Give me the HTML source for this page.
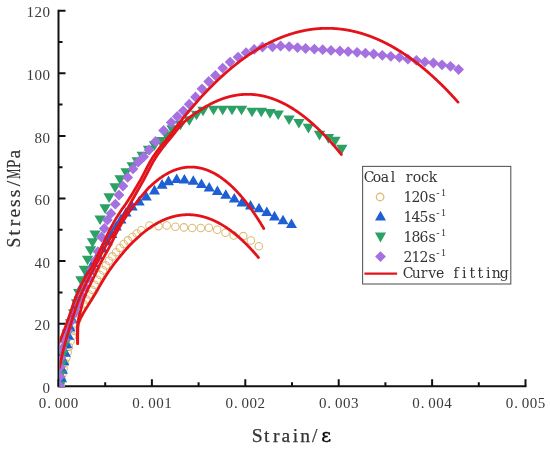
<!DOCTYPE html>
<html><head><meta charset="utf-8"><style>
html,body{margin:0;padding:0;background:#fff;width:550px;height:449px;overflow:hidden}
svg{display:block}
text{font-family:"Liberation Serif","Noto Serif CJK SC",serif;fill:#333}
.tk{font-size:15px;fill:#3a3a3a}
.yt{font-size:19.5px;fill:#333;stroke:#333;stroke-width:0.25px}
.ti{font-size:19.5px;fill:#333;stroke:#333;stroke-width:0.25px}
.eps{font-family:"DejaVu Serif","Liberation Serif",serif;font-size:19px;fill:#000;stroke:#000;stroke-width:0.35px}
.lg{font-family:"DejaVu Serif","Liberation Serif",serif;font-size:14px;fill:#333}
.sup{font-size:10px;fill:#333}
</style></head><body>
<svg width="550" height="449" viewBox="0 0 550 449">
<rect width="550" height="449" fill="#fff"/>
<path d="M58.5,9.7V386.3H526.5" fill="none" stroke="#111" stroke-width="2"/><path d="M58.5,386.3H65.5M58.5,323.7H65.5M58.5,261.1H65.5M58.5,198.5H65.5M58.5,135.9H65.5M58.5,73.3H65.5M58.5,10.7H65.5M58.5,355.0H62.5M58.5,292.4H62.5M58.5,229.8H62.5M58.5,167.2H62.5M58.5,104.6H62.5M58.5,42.0H62.5M58.5,386.3V379.3M151.9,386.3V379.3M245.3,386.3V379.3M338.7,386.3V379.3M432.1,386.3V379.3M525.5,386.3V379.3M105.2,386.3V382.3M198.6,386.3V382.3M292.0,386.3V382.3M385.4,386.3V382.3M478.8,386.3V382.3" stroke="#111" stroke-width="2" fill="none"/>
<defs><clipPath id="pc"><rect x="59.5" y="0" width="480" height="387.3"/></clipPath></defs>
<g clip-path="url(#pc)"><g fill="none" stroke="#dfbb78" stroke-width="1.1"><circle cx="61.0" cy="385.0" r="3.75"/><circle cx="61.7" cy="379.4" r="3.75"/><circle cx="62.5" cy="373.9" r="3.75"/><circle cx="63.6" cy="368.4" r="3.75"/><circle cx="65.0" cy="363.0" r="3.75"/><circle cx="66.4" cy="357.6" r="3.75"/><circle cx="67.7" cy="352.1" r="3.75"/><circle cx="69.0" cy="346.7" r="3.75"/><circle cx="70.6" cy="341.3" r="3.75"/><circle cx="72.3" cy="336.0" r="3.75"/><circle cx="74.0" cy="330.6" r="3.75"/><circle cx="75.6" cy="325.3" r="3.75"/><circle cx="77.4" cy="320.0" r="3.75"/><circle cx="79.3" cy="314.7" r="3.75"/><circle cx="81.5" cy="309.5" r="3.75"/><circle cx="83.8" cy="304.4" r="3.75"/><circle cx="86.3" cy="299.4" r="3.75"/><circle cx="89.0" cy="294.5" r="3.75"/><circle cx="91.8" cy="289.7" r="3.75"/><circle cx="94.6" cy="284.8" r="3.75"/><circle cx="97.1" cy="279.8" r="3.75"/><circle cx="100.0" cy="275.0" r="3.75"/><circle cx="103.0" cy="270.3" r="3.75"/><circle cx="105.9" cy="265.5" r="3.75"/><circle cx="108.9" cy="260.8" r="3.75"/><circle cx="112.3" cy="256.4" r="3.75"/><circle cx="116.0" cy="252.2" r="3.75"/><circle cx="119.8" cy="248.0" r="3.75"/><circle cx="123.7" cy="244.0" r="3.75"/><circle cx="127.9" cy="240.4" r="3.75"/><circle cx="132.4" cy="237.0" r="3.75"/><circle cx="136.8" cy="233.5" r="3.75"/><circle cx="141.3" cy="230.2" r="3.75"/><circle cx="149.5" cy="225.5" r="3.75"/><circle cx="158.5" cy="226.1" r="3.75"/><circle cx="166.7" cy="225.5" r="3.75"/><circle cx="175.4" cy="226.7" r="3.75"/><circle cx="183.9" cy="227.4" r="3.75"/><circle cx="192.2" cy="228.0" r="3.75"/><circle cx="200.8" cy="228.0" r="3.75"/><circle cx="208.9" cy="227.8" r="3.75"/><circle cx="217.2" cy="229.7" r="3.75"/><circle cx="225.5" cy="232.7" r="3.75"/><circle cx="233.7" cy="235.5" r="3.75"/><circle cx="243.3" cy="236.1" r="3.75"/><circle cx="250.9" cy="240.5" r="3.75"/><circle cx="258.8" cy="246.3" r="3.75"/></g><path fill="#1e5fd4" d="M61.2,381.2L66.7,390.8L55.7,390.8ZM61.6,372.6L67.1,382.2L56.1,382.2ZM62.5,364.1L68.0,373.7L57.0,373.7ZM63.8,355.6L69.3,365.2L58.3,365.2ZM65.4,347.1L70.9,356.7L59.9,356.7ZM67.0,338.7L72.5,348.3L61.5,348.3ZM68.6,330.2L74.1,339.8L63.1,339.8ZM70.2,321.8L75.7,331.4L64.7,331.4ZM72.2,313.4L77.7,323.0L66.7,323.0ZM74.3,305.1L79.8,314.7L68.8,314.7ZM76.6,296.8L82.1,306.4L71.1,306.4ZM79.0,288.5L84.5,298.1L73.5,298.1ZM81.9,280.4L87.4,290.0L76.4,290.0ZM85.4,272.5L90.9,282.1L79.9,282.1ZM89.1,264.8L94.6,274.4L83.6,274.4ZM93.2,257.3L98.7,266.9L87.7,266.9ZM97.8,250.0L103.3,259.6L92.3,259.6ZM102.6,242.8L108.1,252.4L97.1,252.4ZM107.3,235.7L112.8,245.3L101.8,245.3ZM111.9,228.4L117.4,238.0L106.4,238.0ZM116.3,221.0L121.8,230.6L110.8,230.6ZM121.0,213.8L126.5,223.4L115.5,223.4ZM126.1,206.9L131.6,216.5L120.6,216.5ZM132.2,200.8L137.7,210.4L126.7,210.4ZM139.2,195.8L144.7,205.4L133.7,205.4ZM146.3,191.0L151.8,200.6L140.8,200.6ZM154.5,184.8L160.0,194.4L149.0,194.4ZM162.1,179.1L167.6,188.7L156.6,188.7ZM168.5,175.6L174.0,185.2L163.0,185.2ZM176.7,173.4L182.2,183.0L171.2,183.0ZM184.4,174.0L189.9,183.6L178.9,183.6ZM193.3,175.2L198.8,184.8L187.8,184.8ZM201.5,178.5L207.0,188.1L196.0,188.1ZM209.2,182.0L214.7,191.6L203.7,191.6ZM217.4,185.5L222.9,195.1L211.9,195.1ZM225.8,189.2L231.3,198.8L220.3,198.8ZM234.3,193.0L239.8,202.6L228.8,202.6ZM242.0,196.8L247.5,206.4L236.5,206.4ZM250.5,200.0L256.0,209.6L245.0,209.6ZM259.0,202.7L264.5,212.3L253.5,212.3ZM266.8,206.5L272.3,216.1L261.3,216.1ZM274.5,210.8L280.0,220.4L269.0,220.4ZM283.0,214.7L288.5,224.3L277.5,224.3ZM291.5,218.5L297.0,228.1L286.0,228.1Z"/><path fill="#2ba166" d="M54.3,381.2L65.7,381.2L60.0,390.8ZM54.9,370.7L66.3,370.7L60.6,380.3ZM55.9,360.3L67.3,360.3L61.6,369.9ZM57.4,349.9L68.8,349.9L63.1,359.5ZM59.5,339.6L70.9,339.6L65.2,349.2ZM61.8,329.4L73.2,329.4L67.5,339.0ZM64.8,319.3L76.2,319.3L70.5,328.9ZM68.0,309.3L79.4,309.3L73.7,318.9ZM70.9,299.2L82.3,299.2L76.6,308.8ZM73.0,288.9L84.4,288.9L78.7,298.5ZM75.2,276.2L86.6,276.2L80.9,285.8ZM78.6,265.7L90.0,265.7L84.3,275.3ZM81.9,255.7L93.3,255.7L87.6,265.3ZM84.8,246.2L96.2,246.2L90.5,255.8ZM86.8,238.2L98.2,238.2L92.5,247.8ZM89.4,230.4L100.8,230.4L95.1,240.0ZM94.4,215.4L105.8,215.4L100.1,225.0ZM99.4,204.3L110.8,204.3L105.1,213.9ZM103.4,193.3L114.8,193.3L109.1,202.9ZM109.4,183.3L120.8,183.3L115.1,192.9ZM114.4,175.3L125.8,175.3L120.1,184.9ZM120.4,168.3L131.8,168.3L126.1,177.9ZM126.5,162.2L137.9,162.2L132.2,171.8ZM131.5,157.2L142.9,157.2L137.2,166.8ZM136.5,151.7L147.9,151.7L142.2,161.3ZM142.8,145.7L154.2,145.7L148.5,155.3ZM148.8,141.2L160.2,141.2L154.5,150.8ZM154.7,137.0L166.1,137.0L160.4,146.6ZM160.6,131.2L172.0,131.2L166.3,140.8ZM166.4,125.3L177.8,125.3L172.1,134.9ZM174.8,120.7L186.2,120.7L180.5,130.3ZM183.6,116.2L195.0,116.2L189.3,125.8ZM190.8,110.7L202.2,110.7L196.5,120.3ZM197.3,106.7L208.7,106.7L203.0,116.3ZM207.8,105.7L219.2,105.7L213.5,115.3ZM217.0,105.7L228.4,105.7L222.7,115.3ZM226.3,105.7L237.7,105.7L232.0,115.3ZM235.8,105.7L247.2,105.7L241.5,115.3ZM246.3,107.7L257.7,107.7L252.0,117.3ZM255.6,107.7L267.0,107.7L261.3,117.3ZM264.3,109.1L275.7,109.1L270.0,118.7ZM272.5,110.5L283.9,110.5L278.2,120.1ZM283.4,115.4L294.8,115.4L289.1,125.0ZM293.2,119.0L304.6,119.0L298.9,128.6ZM302.7,123.8L314.1,123.8L308.4,133.4ZM313.8,130.8L325.2,130.8L319.5,140.4ZM322.7,134.1L334.1,134.1L328.4,143.7ZM329.3,136.7L340.7,136.7L335.0,146.3ZM336.1,144.8L347.5,144.8L341.8,154.4Z"/><path fill="#a570e0" d="M59.6,380.6L65.0,386.0L59.6,391.4L54.2,386.0ZM60.0,371.2L65.4,376.6L60.0,382.0L54.6,376.6ZM60.4,361.8L65.8,367.2L60.4,372.6L55.0,367.2ZM61.0,352.4L66.4,357.8L61.0,363.2L55.6,357.8ZM62.2,343.1L67.6,348.5L62.2,353.9L56.8,348.5ZM64.4,334.0L69.8,339.4L64.4,344.8L59.0,339.4ZM67.5,325.1L72.9,330.5L67.5,335.9L62.1,330.5ZM70.9,316.4L76.3,321.8L70.9,327.2L65.5,321.8ZM74.7,307.7L80.1,313.1L74.7,318.5L69.3,313.1ZM78.3,299.1L83.7,304.5L78.3,309.9L72.9,304.5ZM81.7,290.3L87.1,295.7L81.7,301.1L76.3,295.7ZM85.0,281.5L90.4,286.9L85.0,292.3L79.6,286.9ZM88.4,272.7L93.8,278.1L88.4,283.5L83.0,278.1ZM91.8,264.0L97.2,269.4L91.8,274.8L86.4,269.4ZM95.1,255.2L100.5,260.6L95.1,266.0L89.7,260.6ZM97.9,246.2L103.3,251.6L97.9,257.0L92.5,251.6ZM101.5,231.6L106.9,237.0L101.5,242.4L96.1,237.0ZM104.3,223.1L109.7,228.5L104.3,233.9L98.9,228.5ZM107.4,214.7L112.8,220.1L107.4,225.5L102.0,220.1ZM111.0,208.0L116.4,213.4L111.0,218.8L105.6,213.4ZM115.3,198.8L120.7,204.2L115.3,209.6L109.9,204.2ZM119.0,189.6L124.4,195.0L119.0,200.4L113.6,195.0ZM123.0,180.7L128.4,186.1L123.0,191.5L117.6,186.1ZM127.7,172.0L133.1,177.4L127.7,182.8L122.3,177.4ZM133.0,163.5L138.4,168.9L133.0,174.3L127.6,168.9ZM138.2,156.6L143.6,162.0L138.2,167.4L132.8,162.0ZM143.7,151.4L149.1,156.8L143.7,162.2L138.3,156.8ZM149.1,144.6L154.5,150.0L149.1,155.4L143.7,150.0ZM155.5,136.1L160.9,141.5L155.5,146.9L150.1,141.5ZM163.6,125.1L169.0,130.5L163.6,135.9L158.2,130.5ZM171.2,117.1L176.6,122.5L171.2,127.9L165.8,122.5ZM177.3,111.1L182.7,116.5L177.3,121.9L171.9,116.5ZM183.3,105.4L188.7,110.8L183.3,116.2L177.9,110.8ZM189.2,98.8L194.6,104.2L189.2,109.6L183.8,104.2ZM195.5,91.6L200.9,97.0L195.5,102.4L190.1,97.0ZM202.0,83.4L207.4,88.8L202.0,94.2L196.6,88.8ZM208.7,76.1L214.1,81.5L208.7,86.9L203.3,81.5ZM215.4,70.0L220.8,75.4L215.4,80.8L210.0,75.4ZM222.7,62.7L228.1,68.1L222.7,73.5L217.3,68.1ZM230.1,56.7L235.5,62.1L230.1,67.5L224.7,62.1ZM238.1,51.7L243.5,57.1L238.1,62.5L232.7,57.1ZM246.1,47.3L251.5,52.7L246.1,58.1L240.7,52.7ZM254.2,44.0L259.6,49.4L254.2,54.8L248.8,49.4ZM262.5,41.6L267.9,47.0L262.5,52.4L257.1,47.0ZM272.5,41.4L277.9,46.8L272.5,52.2L267.1,46.8ZM280.6,40.6L286.0,46.0L280.6,51.4L275.2,46.0ZM289.2,41.2L294.6,46.6L289.2,52.0L283.8,46.6ZM297.5,42.2L302.9,47.6L297.5,53.0L292.1,47.6ZM305.6,43.1L311.0,48.5L305.6,53.9L300.2,48.5ZM314.4,43.7L319.8,49.1L314.4,54.5L309.0,49.1ZM322.7,44.3L328.1,49.7L322.7,55.1L317.3,49.7ZM331.0,45.0L336.4,50.4L331.0,55.8L325.6,50.4ZM339.9,45.6L345.3,51.0L339.9,56.4L334.5,51.0ZM348.2,46.2L353.6,51.6L348.2,57.0L342.8,51.6ZM357.1,46.9L362.5,52.3L357.1,57.7L351.7,52.3ZM365.4,47.8L370.8,53.2L365.4,58.6L360.0,53.2ZM373.7,48.6L379.1,54.0L373.7,59.4L368.3,54.0ZM382.3,49.9L387.7,55.3L382.3,60.7L376.9,55.3ZM390.8,50.9L396.2,56.3L390.8,61.7L385.4,56.3ZM399.4,52.0L404.8,57.4L399.4,62.8L394.0,57.4ZM407.9,53.8L413.3,59.2L407.9,64.6L402.5,59.2ZM416.4,54.9L421.8,60.3L416.4,65.7L411.0,60.3ZM424.9,56.5L430.3,61.9L424.9,67.3L419.5,61.9ZM433.4,57.6L438.8,63.0L433.4,68.4L428.0,63.0ZM442.0,59.4L447.4,64.8L442.0,70.2L436.6,64.8ZM450.5,60.9L455.9,66.3L450.5,71.7L445.1,66.3ZM458.6,64.1L464.0,69.5L458.6,74.9L453.2,69.5Z"/><path fill="none" stroke="#e3131b" stroke-width="2.8" stroke-linecap="round" stroke-linejoin="round" d="M77.70,343.60 L77.71,342.63 L77.71,341.64 L77.71,340.65 L77.71,339.66 L77.71,338.66 L77.71,337.67 L77.71,336.68 L77.71,335.71 L77.73,334.75 L77.74,333.81 L77.77,332.89 L77.80,332.00 L77.83,331.14 L77.84,330.31 L77.84,329.51 L77.83,328.73 L77.84,327.97 L77.85,327.21 L77.88,326.46 L77.94,325.70 L78.04,324.93 L78.17,324.15 L78.36,323.34 L78.60,322.50 L78.90,321.63 L79.26,320.74 L79.67,319.83 L80.12,318.91 L80.60,317.97 L81.11,317.03 L81.64,316.09 L82.18,315.15 L82.72,314.21 L83.26,313.29 L83.79,312.39 L84.30,311.50 L84.80,310.63 L85.31,309.76 L85.83,308.91 L86.36,308.06 L86.88,307.21 L87.41,306.38 L87.94,305.55 L88.47,304.72 L88.99,303.91 L89.50,303.10 L90.01,302.30 L90.50,301.50 L90.98,300.72 L91.45,299.96 L91.91,299.21 L92.37,298.48 L92.82,297.76 L93.26,297.03 L93.71,296.31 L94.16,295.57 L94.61,294.83 L95.06,294.08 L95.53,293.30 L96.00,292.50 L96.48,291.67 L96.97,290.83 L97.46,289.96 L97.96,289.07 L98.46,288.18 L98.97,287.28 L99.47,286.38 L99.98,285.48 L100.49,284.59 L100.99,283.71 L101.50,282.84 L102.00,282.00 L102.50,281.17 L103.00,280.35 L103.50,279.53 L104.00,278.72 L104.50,277.92 L105.00,277.12 L105.50,276.34 L106.00,275.56 L106.50,274.78 L107.00,274.01 L107.50,273.25 L108.00,272.50 L108.50,271.75 L109.00,271.01 L109.50,270.28 L110.00,269.56 L110.50,268.84 L111.00,268.12 L111.50,267.42 L112.00,266.72 L112.50,266.03 L113.00,265.35 L113.50,264.67 L114.00,264.00 L114.50,263.34 L115.00,262.69 L115.50,262.05 L116.00,261.41 L116.50,260.78 L117.00,260.16 L117.50,259.55 L118.00,258.93 L118.50,258.32 L119.00,257.72 L119.50,257.11 L120.00,256.50 L120.50,255.89 L121.00,255.29 L121.50,254.68 L122.00,254.08 L122.50,253.48 L123.00,252.88 L123.50,252.29 L124.00,251.70 L124.50,251.12 L125.00,250.54 L125.50,249.97 L126.00,249.40 L126.50,248.84 L127.00,248.28 L127.50,247.73 L128.00,247.19 L128.50,246.64 L129.00,246.11 L129.50,245.57 L130.00,245.05 L130.50,244.53 L131.00,244.01 L131.50,243.50 L132.00,243.00 L132.50,242.50 L133.02,242.00 L133.54,241.51 L134.06,241.01 L134.58,240.53 L135.09,240.05 L135.61,239.58 L136.11,239.12 L136.61,238.67 L137.09,238.23 L137.55,237.81 L138.00,237.40 L138.42,237.02 L138.80,236.66 L139.16,236.33 L139.50,236.01 L139.83,235.71 L140.16,235.41 L140.49,235.11 L140.83,234.80 L141.20,234.49 L141.59,234.15 L142.02,233.79 L142.50,233.40 L143.03,232.97 L143.61,232.51 L144.22,232.02 L144.87,231.51 L145.54,230.99 L146.22,230.47 L146.90,229.95 L147.57,229.43 L148.23,228.94 L148.86,228.47 L149.45,228.03 L150.00,227.64 L150.50,227.28 L150.98,226.95 L151.43,226.64 L151.85,226.36 L152.26,226.09 L152.66,225.84 L153.04,225.60 L153.43,225.37 L153.81,225.14 L154.20,224.91 L154.59,224.67 L155.00,224.43 L155.42,224.18 L155.83,223.94 L156.25,223.70 L156.67,223.46 L157.08,223.23 L157.50,222.99 L157.92,222.77 L158.33,222.54 L158.75,222.32 L159.17,222.10 L159.58,221.89 L160.00,221.68 L160.42,221.47 L160.83,221.26 L161.25,221.06 L161.67,220.86 L162.08,220.67 L162.50,220.48 L162.92,220.29 L163.33,220.10 L163.75,219.92 L164.17,219.74 L164.58,219.56 L165.00,219.39 L165.42,219.22 L165.83,219.05 L166.25,218.89 L166.67,218.73 L167.08,218.57 L167.50,218.41 L167.92,218.26 L168.33,218.11 L168.75,217.97 L169.17,217.83 L169.58,217.69 L170.00,217.55 L170.42,217.42 L170.83,217.29 L171.25,217.17 L171.67,217.04 L172.08,216.92 L172.50,216.81 L172.92,216.69 L173.33,216.58 L173.75,216.48 L174.17,216.37 L174.58,216.27 L175.00,216.17 L175.42,216.08 L175.83,215.99 L176.25,215.90 L176.67,215.81 L177.08,215.73 L177.50,215.65 L177.92,215.58 L178.33,215.50 L178.75,215.43 L179.17,215.37 L179.58,215.30 L180.00,215.24 L180.42,215.18 L180.83,215.13 L181.25,215.08 L181.67,215.03 L182.08,214.99 L182.50,214.94 L182.92,214.91 L183.33,214.87 L183.75,214.84 L184.17,214.81 L184.58,214.78 L185.00,214.76 L185.42,214.74 L185.83,214.72 L186.25,214.71 L186.67,214.70 L187.08,214.69 L187.50,214.68 L187.92,214.68 L188.33,214.68 L188.75,214.69 L189.17,214.70 L189.58,214.71 L190.00,214.72 L190.42,214.74 L190.83,214.76 L191.25,214.78 L191.67,214.81 L192.08,214.84 L192.50,214.87 L192.92,214.90 L193.33,214.94 L193.75,214.98 L194.17,215.03 L194.58,215.07 L195.00,215.12 L195.42,215.18 L195.83,215.23 L196.25,215.29 L196.67,215.36 L197.08,215.42 L197.50,215.49 L197.92,215.56 L198.33,215.64 L198.75,215.72 L199.17,215.80 L199.58,215.88 L200.00,215.97 L200.42,216.06 L200.83,216.15 L201.25,216.25 L201.67,216.35 L202.08,216.45 L202.50,216.55 L202.92,216.66 L203.33,216.77 L203.75,216.89 L204.17,217.00 L204.58,217.12 L205.00,217.25 L205.42,217.37 L205.83,217.50 L206.25,217.64 L206.67,217.77 L207.08,217.91 L207.50,218.05 L207.92,218.19 L208.33,218.34 L208.75,218.49 L209.17,218.65 L209.58,218.80 L210.00,218.96 L210.42,219.12 L210.83,219.29 L211.25,219.46 L211.67,219.63 L212.08,219.80 L212.50,219.98 L212.92,220.16 L213.33,220.34 L213.75,220.53 L214.17,220.72 L214.58,220.91 L215.00,221.11 L215.42,221.31 L215.83,221.51 L216.25,221.71 L216.67,221.92 L217.08,222.13 L217.50,222.34 L217.92,222.56 L218.33,222.78 L218.75,223.00 L219.17,223.22 L219.58,223.45 L220.00,223.68 L220.42,223.92 L220.83,224.15 L221.25,224.39 L221.67,224.63 L222.08,224.88 L222.50,225.13 L222.92,225.38 L223.33,225.63 L223.75,225.89 L224.17,226.15 L224.58,226.42 L225.00,226.68 L225.42,226.95 L225.83,227.22 L226.25,227.50 L226.67,227.78 L227.08,228.06 L227.50,228.34 L227.92,228.63 L228.33,228.92 L228.75,229.21 L229.17,229.50 L229.58,229.80 L230.00,230.10 L230.42,230.41 L230.83,230.72 L231.25,231.03 L231.67,231.34 L232.08,231.66 L232.50,231.97 L232.92,232.30 L233.33,232.62 L233.75,232.95 L234.17,233.28 L234.58,233.61 L235.00,233.95 L235.42,234.29 L235.83,234.63 L236.25,234.97 L236.67,235.32 L237.08,235.67 L237.50,236.03 L237.92,236.38 L238.33,236.74 L238.75,237.11 L239.17,237.47 L239.58,237.84 L240.00,238.21 L240.42,238.58 L240.83,238.96 L241.25,239.34 L241.67,239.72 L242.08,240.11 L242.50,240.50 L242.92,240.89 L243.33,241.28 L243.75,241.68 L244.17,242.08 L244.58,242.48 L245.00,242.89 L245.42,243.29 L245.83,243.71 L246.25,244.12 L246.67,244.54 L247.08,244.96 L247.50,245.38 L247.92,245.80 L248.33,246.23 L248.75,246.66 L249.17,247.10 L249.58,247.54 L250.00,247.98 L250.42,248.42 L250.85,248.88 L251.29,249.35 L251.72,249.83 L252.16,250.31 L252.59,250.79 L253.02,251.26 L253.44,251.73 L253.86,252.19 L254.25,252.63 L254.64,253.06 L255.00,253.47 L255.34,253.86 L255.67,254.24 L255.98,254.60 L256.28,254.94 L256.56,255.28 L256.84,255.61 L257.12,255.93 L257.39,256.25 L257.66,256.57 L257.93,256.90 L258.21,257.23 L258.50,257.56"/><path fill="none" stroke="#e3131b" stroke-width="2.8" stroke-linecap="round" stroke-linejoin="round" d="M77.60,343.60 L77.58,342.63 L77.56,341.65 L77.53,340.66 L77.50,339.67 L77.48,338.69 L77.45,337.70 L77.43,336.72 L77.41,335.75 L77.39,334.79 L77.39,333.84 L77.39,332.91 L77.40,332.00 L77.42,331.11 L77.43,330.25 L77.45,329.41 L77.47,328.59 L77.50,327.77 L77.53,326.96 L77.57,326.16 L77.63,325.35 L77.70,324.53 L77.78,323.71 L77.88,322.86 L78.00,322.00 L78.14,321.12 L78.30,320.22 L78.48,319.32 L78.68,318.41 L78.89,317.49 L79.11,316.56 L79.33,315.63 L79.57,314.70 L79.80,313.77 L80.04,312.84 L80.27,311.92 L80.50,311.00 L80.72,310.08 L80.95,309.16 L81.17,308.23 L81.39,307.30 L81.62,306.37 L81.85,305.44 L82.09,304.51 L82.33,303.59 L82.58,302.68 L82.84,301.78 L83.12,300.88 L83.40,300.00 L83.70,299.13 L84.00,298.28 L84.32,297.43 L84.65,296.59 L84.98,295.76 L85.33,294.94 L85.67,294.12 L86.03,293.30 L86.39,292.48 L86.76,291.66 L87.13,290.83 L87.50,290.00 L87.87,289.18 L88.24,288.39 L88.61,287.62 L88.99,286.85 L89.37,286.09 L89.76,285.31 L90.15,284.52 L90.57,283.70 L90.99,282.85 L91.44,281.96 L91.91,281.01 L92.40,280.00 L92.93,278.91 L93.49,277.73 L94.08,276.48 L94.70,275.19 L95.33,273.85 L95.97,272.50 L96.61,271.15 L97.25,269.81 L97.87,268.52 L98.48,267.27 L99.06,266.09 L99.60,265.00 L100.11,263.99 L100.60,263.04 L101.07,262.15 L101.53,261.30 L101.97,260.48 L102.41,259.69 L102.83,258.91 L103.26,258.15 L103.69,257.38 L104.12,256.61 L104.55,255.82 L105.00,255.00 L105.45,254.18 L105.89,253.38 L106.34,252.59 L106.77,251.81 L107.21,251.04 L107.66,250.25 L108.10,249.45 L108.56,248.63 L109.02,247.78 L109.50,246.90 L109.99,245.97 L110.50,245.00 L111.02,243.98 L111.54,242.92 L112.06,241.83 L112.60,240.70 L113.14,239.55 L113.69,238.38 L114.26,237.18 L114.85,235.96 L115.45,234.73 L116.08,233.50 L116.73,232.25 L117.40,231.00 L118.10,229.73 L118.82,228.44 L119.57,227.12 L120.33,225.78 L121.12,224.42 L121.92,223.06 L122.74,221.70 L123.57,220.33 L124.41,218.98 L125.26,217.63 L126.13,216.30 L127.00,215.00 L127.89,213.71 L128.81,212.41 L129.76,211.11 L130.72,209.81 L131.69,208.52 L132.68,207.24 L133.66,205.98 L134.64,204.73 L135.61,203.51 L136.56,202.31 L137.49,201.14 L138.40,200.00 L139.31,198.87 L140.24,197.72 L141.20,196.56 L142.15,195.42 L143.09,194.29 L144.01,193.20 L144.90,192.16 L145.74,191.18 L146.52,190.27 L147.24,189.44 L147.87,188.72 L148.40,188.10 L148.82,187.62 L149.11,187.29 L149.31,187.08 L149.43,186.96 L149.49,186.91 L149.51,186.92 L149.52,186.95 L149.53,186.98 L149.56,186.99 L149.63,186.96 L149.77,186.85 L150.00,186.66 L150.30,186.39 L150.64,186.08 L151.01,185.73 L151.41,185.36 L151.84,184.97 L152.29,184.56 L152.74,184.14 L153.21,183.72 L153.67,183.31 L154.13,182.90 L154.57,182.51 L155.00,182.15 L155.42,181.80 L155.83,181.46 L156.25,181.11 L156.67,180.78 L157.08,180.45 L157.50,180.12 L157.92,179.79 L158.33,179.47 L158.75,179.16 L159.17,178.84 L159.58,178.53 L160.00,178.23 L160.42,177.93 L160.83,177.63 L161.25,177.34 L161.67,177.06 L162.08,176.77 L162.50,176.49 L162.92,176.22 L163.33,175.95 L163.75,175.68 L164.17,175.41 L164.58,175.16 L165.00,174.90 L165.42,174.65 L165.83,174.40 L166.25,174.16 L166.67,173.92 L167.08,173.69 L167.50,173.46 L167.92,173.23 L168.33,173.01 L168.75,172.79 L169.17,172.57 L169.58,172.36 L170.00,172.16 L170.42,171.96 L170.83,171.76 L171.25,171.57 L171.67,171.38 L172.08,171.19 L172.50,171.01 L172.92,170.83 L173.33,170.66 L173.75,170.49 L174.17,170.32 L174.58,170.16 L175.00,170.00 L175.42,169.85 L175.83,169.70 L176.25,169.56 L176.67,169.42 L177.08,169.28 L177.50,169.15 L177.92,169.02 L178.33,168.89 L178.75,168.77 L179.17,168.66 L179.58,168.54 L180.00,168.44 L180.42,168.33 L180.83,168.23 L181.25,168.14 L181.67,168.04 L182.08,167.96 L182.50,167.87 L182.92,167.79 L183.33,167.72 L183.75,167.64 L184.17,167.58 L184.58,167.51 L185.00,167.45 L185.42,167.40 L185.83,167.35 L186.25,167.30 L186.67,167.26 L187.08,167.22 L187.50,167.18 L187.92,167.15 L188.33,167.12 L188.75,167.10 L189.17,167.08 L189.58,167.07 L190.00,167.05 L190.42,167.05 L190.83,167.04 L191.25,167.05 L191.67,167.05 L192.08,167.06 L192.50,167.07 L192.92,167.09 L193.33,167.11 L193.75,167.14 L194.17,167.17 L194.58,167.20 L195.00,167.24 L195.42,167.28 L195.83,167.33 L196.25,167.38 L196.67,167.43 L197.08,167.49 L197.50,167.55 L197.92,167.62 L198.33,167.69 L198.75,167.76 L199.17,167.84 L199.58,167.92 L200.00,168.01 L200.42,168.10 L200.83,168.19 L201.25,168.29 L201.67,168.39 L202.08,168.50 L202.50,168.61 L202.92,168.72 L203.33,168.84 L203.75,168.96 L204.17,169.09 L204.58,169.22 L205.00,169.35 L205.42,169.49 L205.83,169.63 L206.25,169.78 L206.67,169.93 L207.08,170.09 L207.50,170.25 L207.92,170.41 L208.33,170.57 L208.75,170.75 L209.17,170.92 L209.58,171.10 L210.00,171.28 L210.42,171.47 L210.83,171.66 L211.25,171.85 L211.67,172.05 L212.08,172.26 L212.50,172.46 L212.92,172.67 L213.33,172.89 L213.75,173.11 L214.17,173.33 L214.58,173.56 L215.00,173.79 L215.42,174.02 L215.83,174.26 L216.25,174.51 L216.67,174.75 L217.08,175.00 L217.50,175.26 L217.92,175.52 L218.33,175.78 L218.75,176.05 L219.17,176.32 L219.58,176.60 L220.00,176.88 L220.42,177.16 L220.83,177.45 L221.25,177.74 L221.67,178.03 L222.08,178.33 L222.50,178.63 L222.92,178.94 L223.33,179.25 L223.75,179.57 L224.17,179.89 L224.58,180.21 L225.00,180.54 L225.42,180.87 L225.83,181.20 L226.25,181.54 L226.67,181.89 L227.08,182.23 L227.50,182.59 L227.92,182.94 L228.33,183.30 L228.75,183.66 L229.17,184.03 L229.58,184.40 L230.00,184.78 L230.42,185.16 L230.83,185.54 L231.25,185.93 L231.67,186.32 L232.08,186.71 L232.50,187.11 L232.92,187.52 L233.33,187.92 L233.75,188.33 L234.17,188.75 L234.58,189.17 L235.00,189.59 L235.42,190.02 L235.83,190.45 L236.25,190.88 L236.67,191.32 L237.08,191.77 L237.50,192.21 L237.92,192.67 L238.33,193.12 L238.75,193.58 L239.17,194.04 L239.58,194.51 L240.00,194.98 L240.42,195.45 L240.83,195.93 L241.25,196.42 L241.67,196.90 L242.08,197.39 L242.50,197.89 L242.92,198.39 L243.33,198.89 L243.75,199.40 L244.17,199.91 L244.58,200.42 L245.00,200.94 L245.42,201.46 L245.83,201.99 L246.25,202.52 L246.67,203.06 L247.08,203.59 L247.50,204.14 L247.92,204.68 L248.33,205.23 L248.75,205.79 L249.17,206.35 L249.58,206.91 L250.00,207.48 L250.42,208.05 L250.83,208.62 L251.25,209.20 L251.67,209.78 L252.08,210.37 L252.50,210.96 L252.92,211.55 L253.33,212.15 L253.75,212.75 L254.17,213.36 L254.58,213.97 L255.00,214.58 L255.42,215.21 L255.85,215.84 L256.28,216.49 L256.71,217.15 L257.14,217.81 L257.57,218.47 L258.00,219.13 L258.42,219.78 L258.83,220.43 L259.24,221.05 L259.63,221.67 L260.00,222.26 L260.36,222.83 L260.70,223.38 L261.03,223.91 L261.36,224.44 L261.67,224.95 L261.97,225.45 L262.28,225.95 L262.58,226.45 L262.88,226.95 L263.18,227.45 L263.49,227.96 L263.80,228.47"/><path fill="none" stroke="#e3131b" stroke-width="2.8" stroke-linecap="round" stroke-linejoin="round" d="M59.40,368.00 L59.68,366.66 L59.96,365.31 L60.24,363.95 L60.52,362.59 L60.80,361.23 L61.08,359.88 L61.36,358.52 L61.64,357.19 L61.93,355.86 L62.22,354.55 L62.51,353.26 L62.80,352.00 L63.10,350.76 L63.40,349.54 L63.70,348.34 L64.00,347.15 L64.31,345.97 L64.61,344.81 L64.92,343.66 L65.23,342.52 L65.55,341.38 L65.86,340.25 L66.18,339.13 L66.50,338.00 L66.82,336.88 L67.15,335.78 L67.48,334.68 L67.81,333.59 L68.15,332.51 L68.48,331.44 L68.82,330.37 L69.16,329.30 L69.49,328.23 L69.83,327.16 L70.17,326.08 L70.50,325.00 L70.83,323.91 L71.16,322.82 L71.50,321.73 L71.83,320.63 L72.16,319.53 L72.49,318.44 L72.82,317.35 L73.15,316.26 L73.49,315.18 L73.82,314.11 L74.16,313.05 L74.50,312.00 L74.84,310.96 L75.18,309.93 L75.52,308.91 L75.86,307.89 L76.21,306.88 L76.55,305.88 L76.90,304.88 L77.25,303.89 L77.60,302.91 L77.96,301.93 L78.33,300.96 L78.70,300.00 L79.08,299.05 L79.46,298.11 L79.85,297.18 L80.24,296.26 L80.63,295.35 L81.03,294.44 L81.43,293.53 L81.84,292.63 L82.25,291.73 L82.66,290.82 L83.08,289.91 L83.50,289.00 L83.92,288.08 L84.34,287.17 L84.77,286.26 L85.20,285.35 L85.63,284.44 L86.06,283.53 L86.50,282.62 L86.95,281.70 L87.40,280.79 L87.86,279.86 L88.33,278.93 L88.80,278.00 L89.27,277.08 L89.74,276.19 L90.21,275.32 L90.68,274.46 L91.15,273.60 L91.64,272.72 L92.14,271.81 L92.66,270.87 L93.20,269.88 L93.77,268.83 L94.36,267.71 L95.00,266.50 L95.67,265.20 L96.38,263.82 L97.11,262.36 L97.87,260.83 L98.65,259.26 L99.45,257.66 L100.27,256.03 L101.10,254.39 L101.94,252.75 L102.79,251.14 L103.65,249.55 L104.50,248.00 L105.37,246.47 L106.28,244.94 L107.20,243.39 L108.15,241.85 L109.10,240.31 L110.06,238.78 L111.02,237.26 L111.96,235.76 L112.89,234.28 L113.79,232.82 L114.67,231.39 L115.50,230.00 L116.30,228.64 L117.06,227.33 L117.81,226.04 L118.53,224.78 L119.23,223.54 L119.92,222.31 L120.60,221.10 L121.27,219.89 L121.95,218.68 L122.62,217.47 L123.31,216.24 L124.00,215.00 L124.69,213.77 L125.36,212.56 L126.02,211.37 L126.67,210.19 L127.32,209.00 L127.97,207.81 L128.64,206.60 L129.32,205.37 L130.02,204.10 L130.75,202.79 L131.50,201.43 L132.30,200.00 L133.14,198.51 L134.02,196.96 L134.93,195.35 L135.87,193.70 L136.83,192.02 L137.81,190.31 L138.79,188.59 L139.77,186.85 L140.75,185.12 L141.72,183.39 L142.67,181.68 L143.60,180.00 L144.51,178.31 L145.42,176.59 L146.33,174.84 L147.24,173.07 L148.14,171.31 L149.04,169.56 L149.93,167.84 L150.80,166.15 L151.67,164.51 L152.53,162.93 L153.37,161.42 L154.20,160.00 L155.01,158.66 L155.81,157.40 L156.59,156.20 L157.36,155.06 L158.12,153.97 L158.87,152.92 L159.61,151.90 L160.35,150.90 L161.09,149.92 L161.82,148.95 L162.56,147.98 L163.30,147.00 L164.04,146.03 L164.78,145.08 L165.52,144.15 L166.26,143.24 L166.99,142.34 L167.72,141.46 L168.44,140.59 L169.17,139.73 L169.88,138.87 L170.60,138.02 L171.30,137.16 L172.00,136.30 L172.69,135.43 L173.39,134.56 L174.07,133.68 L174.76,132.80 L175.43,131.92 L176.11,131.06 L176.77,130.20 L177.43,129.37 L178.09,128.56 L178.73,127.77 L179.37,127.02 L180.00,126.30 L180.62,125.61 L181.23,124.96 L181.83,124.33 L182.43,123.72 L183.02,123.14 L183.60,122.57 L184.18,122.03 L184.75,121.50 L185.32,120.98 L185.88,120.48 L186.44,119.99 L187.00,119.50 L187.55,119.03 L188.09,118.59 L188.62,118.17 L189.14,117.76 L189.65,117.37 L190.17,116.99 L190.69,116.62 L191.21,116.25 L191.74,115.87 L192.28,115.49 L192.83,115.10 L193.40,114.70 L193.99,114.28 L194.62,113.85 L195.26,113.41 L195.91,112.96 L196.57,112.51 L197.24,112.06 L197.90,111.62 L198.54,111.18 L199.18,110.77 L199.78,110.36 L200.36,109.99 L200.90,109.63 L201.40,109.31 L201.88,109.00 L202.33,108.72 L202.75,108.45 L203.16,108.19 L203.56,107.95 L203.94,107.71 L204.33,107.48 L204.71,107.26 L205.10,107.03 L205.49,106.80 L205.90,106.56 L206.32,106.32 L206.73,106.08 L207.15,105.84 L207.57,105.61 L207.98,105.38 L208.40,105.15 L208.82,104.92 L209.23,104.70 L209.65,104.47 L210.07,104.25 L210.48,104.04 L210.90,103.82 L211.32,103.61 L211.73,103.40 L212.15,103.19 L212.57,102.98 L212.98,102.78 L213.40,102.58 L213.82,102.38 L214.23,102.18 L214.65,101.99 L215.07,101.80 L215.48,101.61 L215.90,101.42 L216.32,101.24 L216.73,101.06 L217.15,100.88 L217.57,100.70 L217.98,100.52 L218.40,100.35 L218.82,100.18 L219.23,100.01 L219.65,99.85 L220.07,99.69 L220.48,99.53 L220.90,99.37 L221.32,99.21 L221.73,99.06 L222.15,98.91 L222.57,98.76 L222.98,98.61 L223.40,98.47 L223.82,98.33 L224.23,98.19 L224.65,98.05 L225.07,97.92 L225.48,97.79 L225.90,97.66 L226.32,97.53 L226.73,97.41 L227.15,97.29 L227.57,97.17 L227.98,97.05 L228.40,96.93 L228.82,96.82 L229.23,96.71 L229.65,96.61 L230.07,96.50 L230.48,96.40 L230.90,96.30 L231.32,96.20 L231.73,96.11 L232.15,96.01 L232.57,95.92 L232.98,95.84 L233.40,95.75 L233.82,95.67 L234.23,95.59 L234.65,95.51 L235.07,95.43 L235.48,95.36 L235.90,95.29 L236.32,95.22 L236.73,95.16 L237.15,95.09 L237.57,95.03 L237.98,94.97 L238.40,94.92 L238.82,94.86 L239.23,94.81 L239.65,94.76 L240.07,94.72 L240.48,94.67 L240.90,94.63 L241.32,94.59 L241.73,94.56 L242.15,94.52 L242.57,94.49 L242.98,94.46 L243.40,94.44 L243.82,94.41 L244.23,94.39 L244.65,94.37 L245.07,94.36 L245.48,94.34 L245.90,94.33 L246.32,94.32 L246.73,94.31 L247.15,94.31 L247.57,94.31 L247.98,94.31 L248.40,94.31 L248.82,94.32 L249.23,94.33 L249.65,94.34 L250.07,94.35 L250.48,94.36 L250.90,94.38 L251.32,94.40 L251.73,94.43 L252.15,94.45 L252.57,94.48 L252.98,94.51 L253.40,94.54 L253.82,94.58 L254.23,94.61 L254.65,94.65 L255.07,94.70 L255.48,94.74 L255.90,94.79 L256.32,94.84 L256.73,94.89 L257.15,94.95 L257.57,95.00 L257.98,95.06 L258.40,95.13 L258.82,95.19 L259.23,95.26 L259.65,95.33 L260.07,95.40 L260.48,95.47 L260.90,95.55 L261.32,95.63 L261.73,95.71 L262.15,95.80 L262.57,95.88 L262.98,95.97 L263.40,96.07 L263.82,96.16 L264.23,96.26 L264.65,96.36 L265.07,96.46 L265.48,96.56 L265.90,96.67 L266.32,96.78 L266.73,96.89 L267.15,97.00 L267.57,97.12 L267.98,97.24 L268.40,97.36 L268.82,97.48 L269.23,97.61 L269.65,97.74 L270.07,97.87 L270.48,98.00 L270.90,98.14 L271.32,98.27 L271.73,98.41 L272.15,98.56 L272.57,98.70 L272.98,98.85 L273.40,99.00 L273.82,99.15 L274.23,99.31 L274.65,99.47 L275.07,99.63 L275.48,99.79 L275.90,99.95 L276.32,100.12 L276.73,100.29 L277.15,100.46 L277.57,100.64 L277.98,100.82 L278.40,100.99 L278.82,101.18 L279.23,101.36 L279.65,101.55 L280.07,101.74 L280.48,101.93 L280.90,102.12 L281.32,102.32 L281.73,102.52 L282.15,102.72 L282.57,102.92 L282.98,103.13 L283.40,103.34 L283.82,103.55 L284.23,103.76 L284.65,103.98 L285.07,104.19 L285.48,104.41 L285.90,104.64 L286.32,104.86 L286.73,105.09 L287.15,105.32 L287.57,105.55 L287.98,105.79 L288.40,106.02 L288.82,106.26 L289.23,106.50 L289.65,106.75 L290.07,106.99 L290.48,107.24 L290.90,107.49 L291.32,107.75 L291.73,108.00 L292.15,108.26 L292.57,108.52 L292.98,108.78 L293.40,109.05 L293.82,109.32 L294.23,109.59 L294.65,109.86 L295.07,110.13 L295.48,110.41 L295.90,110.69 L296.32,110.97 L296.73,111.25 L297.15,111.54 L297.57,111.83 L297.98,112.12 L298.40,112.41 L298.82,112.71 L299.23,113.01 L299.65,113.31 L300.07,113.61 L300.48,113.91 L300.90,114.22 L301.32,114.53 L301.73,114.84 L302.15,115.16 L302.57,115.47 L302.98,115.79 L303.40,116.11 L303.82,116.43 L304.23,116.76 L304.65,117.09 L305.07,117.42 L305.48,117.75 L305.90,118.08 L306.32,118.42 L306.73,118.76 L307.15,119.10 L307.57,119.44 L307.98,119.79 L308.40,120.14 L308.82,120.49 L309.23,120.84 L309.65,121.19 L310.07,121.55 L310.48,121.91 L310.90,122.27 L311.32,122.63 L311.73,123.00 L312.15,123.37 L312.57,123.74 L312.98,124.11 L313.40,124.48 L313.82,124.86 L314.23,125.24 L314.65,125.62 L315.07,126.00 L315.48,126.39 L315.90,126.78 L316.32,127.17 L316.73,127.56 L317.15,127.95 L317.57,128.35 L317.98,128.75 L318.40,129.15 L318.82,129.55 L319.23,129.96 L319.65,130.36 L320.07,130.77 L320.48,131.19 L320.90,131.60 L321.32,132.01 L321.73,132.43 L322.15,132.85 L322.57,133.27 L322.98,133.70 L323.40,134.13 L323.82,134.55 L324.23,134.98 L324.65,135.42 L325.07,135.85 L325.48,136.29 L325.90,136.73 L326.32,137.17 L326.73,137.61 L327.15,138.06 L327.57,138.50 L327.98,138.95 L328.40,139.41 L328.82,139.86 L329.23,140.31 L329.65,140.77 L330.07,141.23 L330.48,141.69 L330.90,142.16 L331.32,142.62 L331.73,143.09 L332.15,143.56 L332.57,144.03 L332.98,144.51 L333.40,144.98 L333.82,145.46 L334.23,145.94 L334.65,146.42 L335.07,146.91 L335.48,147.39 L335.90,147.88 L336.33,148.39 L336.79,148.93 L337.26,149.49 L337.74,150.07 L338.22,150.65 L338.69,151.22 L339.15,151.77 L339.58,152.29 L339.98,152.77 L340.34,153.21 L340.65,153.58 L340.90,153.89 L341.09,154.11 L341.22,154.27 L341.31,154.37 L341.35,154.43 L341.36,154.44 L341.34,154.42 L341.31,154.39 L341.27,154.34 L341.24,154.29 L341.20,154.26 L341.19,154.24 L341.20,154.26"/><path fill="none" stroke="#e3131b" stroke-width="2.8" stroke-linecap="round" stroke-linejoin="round" d="M59.00,343.00 L59.27,342.34 L59.55,341.69 L59.82,341.04 L60.09,340.39 L60.35,339.75 L60.62,339.10 L60.90,338.45 L61.17,337.79 L61.45,337.11 L61.73,336.43 L62.01,335.72 L62.30,335.00 L62.59,334.27 L62.88,333.53 L63.18,332.79 L63.47,332.04 L63.77,331.28 L64.07,330.51 L64.38,329.71 L64.69,328.90 L65.01,328.07 L65.33,327.21 L65.66,326.32 L66.00,325.40 L66.35,324.44 L66.71,323.44 L67.08,322.40 L67.45,321.33 L67.83,320.24 L68.22,319.13 L68.61,318.01 L68.99,316.89 L69.38,315.77 L69.76,314.67 L70.13,313.57 L70.50,312.50 L70.86,311.44 L71.21,310.38 L71.56,309.31 L71.91,308.25 L72.25,307.19 L72.59,306.13 L72.94,305.08 L73.28,304.04 L73.63,303.01 L73.98,301.99 L74.34,300.99 L74.70,300.00 L75.07,299.02 L75.44,298.06 L75.82,297.10 L76.21,296.15 L76.59,295.21 L76.98,294.28 L77.37,293.37 L77.76,292.46 L78.15,291.57 L78.53,290.70 L78.92,289.84 L79.30,289.00 L79.68,288.18 L80.05,287.37 L80.43,286.59 L80.80,285.81 L81.17,285.06 L81.54,284.31 L81.92,283.58 L82.29,282.85 L82.66,282.13 L83.04,281.42 L83.42,280.71 L83.80,280.00 L84.19,279.30 L84.57,278.60 L84.97,277.92 L85.36,277.24 L85.75,276.57 L86.15,275.91 L86.55,275.25 L86.94,274.59 L87.33,273.94 L87.73,273.29 L88.11,272.65 L88.50,272.00 L88.87,271.39 L89.21,270.85 L89.53,270.35 L89.85,269.87 L90.16,269.40 L90.48,268.91 L90.82,268.38 L91.17,267.80 L91.56,267.14 L91.99,266.38 L92.47,265.51 L93.00,264.50 L93.59,263.34 L94.24,262.05 L94.93,260.65 L95.67,259.15 L96.43,257.57 L97.22,255.94 L98.02,254.27 L98.83,252.57 L99.64,250.88 L100.45,249.21 L101.24,247.58 L102.00,246.00 L102.75,244.45 L103.51,242.87 L104.26,241.28 L105.02,239.69 L105.78,238.09 L106.53,236.50 L107.29,234.92 L108.04,233.37 L108.79,231.84 L109.53,230.35 L110.27,228.90 L111.00,227.50 L111.72,226.15 L112.44,224.83 L113.15,223.56 L113.86,222.31 L114.56,221.10 L115.26,219.91 L115.96,218.73 L116.66,217.57 L117.36,216.43 L118.07,215.28 L118.78,214.14 L119.50,213.00 L120.22,211.89 L120.92,210.83 L121.62,209.81 L122.32,208.81 L123.02,207.83 L123.73,206.84 L124.45,205.83 L125.19,204.79 L125.95,203.70 L126.73,202.55 L127.55,201.32 L128.40,200.00 L129.30,198.58 L130.24,197.08 L131.21,195.51 L132.22,193.89 L133.25,192.21 L134.29,190.49 L135.34,188.76 L136.38,187.00 L137.42,185.25 L138.44,183.51 L139.44,181.79 L140.40,180.10 L141.34,178.41 L142.27,176.68 L143.20,174.93 L144.11,173.16 L145.02,171.39 L145.91,169.64 L146.80,167.90 L147.68,166.20 L148.55,164.55 L149.41,162.96 L150.26,161.44 L151.10,160.00 L151.93,158.64 L152.75,157.36 L153.56,156.13 L154.36,154.96 L155.15,153.83 L155.94,152.74 L156.71,151.69 L157.48,150.67 L158.24,149.66 L159.00,148.67 L159.75,147.69 L160.50,146.70 L161.22,145.76 L161.89,144.90 L162.54,144.10 L163.16,143.35 L163.78,142.61 L164.40,141.87 L165.04,141.12 L165.72,140.32 L166.44,139.46 L167.22,138.51 L168.07,137.47 L169.00,136.30 L170.02,135.00 L171.11,133.59 L172.27,132.09 L173.48,130.50 L174.74,128.86 L176.03,127.17 L177.35,125.45 L178.69,123.71 L180.03,121.99 L181.37,120.28 L182.69,118.61 L184.00,117.00 L185.33,115.38 L186.74,113.70 L188.19,111.98 L189.67,110.25 L191.15,108.52 L192.62,106.81 L194.06,105.15 L195.44,103.57 L196.75,102.07 L197.96,100.69 L199.05,99.45 L200.00,98.36 L200.80,97.44 L201.47,96.69 L202.02,96.07 L202.48,95.57 L202.86,95.15 L203.19,94.81 L203.47,94.52 L203.74,94.24 L204.01,93.97 L204.29,93.68 L204.62,93.35 L205.00,92.95 L205.42,92.51 L205.83,92.07 L206.25,91.63 L206.67,91.19 L207.08,90.76 L207.50,90.32 L207.92,89.89 L208.33,89.46 L208.75,89.03 L209.17,88.61 L209.58,88.18 L210.00,87.76 L210.42,87.33 L210.83,86.91 L211.25,86.49 L211.67,86.07 L212.08,85.66 L212.50,85.24 L212.92,84.83 L213.33,84.42 L213.75,84.01 L214.17,83.60 L214.58,83.19 L215.00,82.78 L215.42,82.38 L215.83,81.97 L216.25,81.57 L216.67,81.17 L217.08,80.77 L217.50,80.38 L217.92,79.98 L218.33,79.59 L218.75,79.19 L219.17,78.80 L219.58,78.41 L220.00,78.03 L220.42,77.64 L220.83,77.25 L221.25,76.87 L221.67,76.49 L222.08,76.11 L222.50,75.73 L222.92,75.35 L223.33,74.98 L223.75,74.60 L224.17,74.23 L224.58,73.86 L225.00,73.49 L225.42,73.12 L225.83,72.75 L226.25,72.39 L226.67,72.02 L227.08,71.66 L227.50,71.30 L227.92,70.94 L228.33,70.58 L228.75,70.23 L229.17,69.87 L229.58,69.52 L230.00,69.17 L230.42,68.82 L230.83,68.47 L231.25,68.12 L231.67,67.78 L232.08,67.43 L232.50,67.09 L232.92,66.75 L233.33,66.41 L233.75,66.07 L234.17,65.73 L234.58,65.40 L235.00,65.06 L235.42,64.73 L235.83,64.40 L236.25,64.07 L236.67,63.74 L237.08,63.42 L237.50,63.09 L237.92,62.77 L238.33,62.45 L238.75,62.13 L239.17,61.81 L239.58,61.49 L240.00,61.18 L240.42,60.86 L240.83,60.55 L241.25,60.24 L241.67,59.93 L242.08,59.62 L242.50,59.32 L242.92,59.01 L243.33,58.71 L243.75,58.41 L244.17,58.11 L244.58,57.81 L245.00,57.51 L245.42,57.21 L245.83,56.92 L246.25,56.63 L246.67,56.34 L247.08,56.05 L247.50,55.76 L247.92,55.47 L248.33,55.19 L248.75,54.90 L249.17,54.62 L249.58,54.34 L250.00,54.06 L250.42,53.78 L250.83,53.50 L251.25,53.23 L251.67,52.96 L252.08,52.69 L252.50,52.41 L252.92,52.15 L253.33,51.88 L253.75,51.61 L254.17,51.35 L254.58,51.09 L255.00,50.83 L255.42,50.57 L255.83,50.31 L256.25,50.05 L256.67,49.80 L257.08,49.54 L257.50,49.29 L257.92,49.04 L258.33,48.79 L258.75,48.54 L259.17,48.30 L259.58,48.05 L260.00,47.81 L260.42,47.57 L260.83,47.33 L261.25,47.09 L261.67,46.85 L262.08,46.62 L262.50,46.38 L262.92,46.15 L263.33,45.92 L263.75,45.69 L264.17,45.46 L264.58,45.23 L265.00,45.01 L265.42,44.79 L265.83,44.56 L266.25,44.34 L266.67,44.12 L267.08,43.91 L267.50,43.69 L267.92,43.48 L268.33,43.26 L268.75,43.05 L269.17,42.84 L269.58,42.63 L270.00,42.43 L270.42,42.22 L270.83,42.02 L271.25,41.82 L271.67,41.61 L272.08,41.41 L272.50,41.22 L272.92,41.02 L273.33,40.83 L273.75,40.63 L274.17,40.44 L274.58,40.25 L275.00,40.06 L275.42,39.87 L275.83,39.69 L276.25,39.50 L276.67,39.32 L277.08,39.14 L277.50,38.96 L277.92,38.78 L278.33,38.61 L278.75,38.43 L279.17,38.26 L279.58,38.08 L280.00,37.91 L280.42,37.74 L280.83,37.58 L281.25,37.41 L281.67,37.24 L282.08,37.08 L282.50,36.92 L282.92,36.76 L283.33,36.60 L283.75,36.44 L284.17,36.29 L284.58,36.13 L285.00,35.98 L285.42,35.83 L285.83,35.68 L286.25,35.53 L286.67,35.39 L287.08,35.24 L287.50,35.10 L287.92,34.95 L288.33,34.81 L288.75,34.67 L289.17,34.54 L289.58,34.40 L290.00,34.27 L290.42,34.13 L290.83,34.00 L291.25,33.87 L291.67,33.74 L292.08,33.62 L292.50,33.49 L292.92,33.37 L293.33,33.24 L293.75,33.12 L294.17,33.00 L294.58,32.88 L295.00,32.77 L295.42,32.65 L295.83,32.54 L296.25,32.43 L296.67,32.32 L297.08,32.21 L297.50,32.10 L297.92,31.99 L298.33,31.89 L298.75,31.79 L299.17,31.68 L299.58,31.58 L300.00,31.49 L300.42,31.39 L300.83,31.29 L301.25,31.20 L301.67,31.11 L302.08,31.02 L302.50,30.93 L302.92,30.84 L303.33,30.75 L303.75,30.67 L304.17,30.58 L304.58,30.50 L305.00,30.42 L305.42,30.34 L305.83,30.26 L306.25,30.19 L306.67,30.11 L307.08,30.04 L307.50,29.97 L307.92,29.90 L308.33,29.83 L308.75,29.76 L309.17,29.70 L309.58,29.63 L310.00,29.57 L310.42,29.51 L310.83,29.45 L311.25,29.39 L311.67,29.34 L312.08,29.28 L312.50,29.23 L312.92,29.18 L313.33,29.13 L313.75,29.08 L314.17,29.03 L314.58,28.98 L315.00,28.94 L315.42,28.90 L315.83,28.86 L316.25,28.82 L316.67,28.78 L317.08,28.74 L317.50,28.70 L317.92,28.67 L318.33,28.64 L318.75,28.61 L319.17,28.58 L319.58,28.55 L320.00,28.52 L320.42,28.50 L320.83,28.48 L321.25,28.45 L321.67,28.43 L322.08,28.41 L322.50,28.40 L322.92,28.38 L323.33,28.37 L323.75,28.35 L324.17,28.34 L324.58,28.33 L325.00,28.32 L325.42,28.32 L325.83,28.31 L326.25,28.31 L326.67,28.31 L327.08,28.30 L327.50,28.30 L327.92,28.31 L328.33,28.31 L328.75,28.32 L329.17,28.32 L329.58,28.33 L330.00,28.34 L330.42,28.35 L330.83,28.36 L331.25,28.38 L331.67,28.39 L332.08,28.41 L332.50,28.43 L332.92,28.45 L333.33,28.47 L333.75,28.49 L334.17,28.52 L334.58,28.54 L335.00,28.57 L335.42,28.60 L335.83,28.63 L336.25,28.66 L336.67,28.70 L337.08,28.73 L337.50,28.77 L337.92,28.81 L338.33,28.85 L338.75,28.89 L339.17,28.93 L339.58,28.98 L340.00,29.02 L340.42,29.07 L340.83,29.12 L341.25,29.17 L341.67,29.22 L342.08,29.27 L342.50,29.33 L342.92,29.38 L343.33,29.44 L343.75,29.50 L344.17,29.56 L344.58,29.62 L345.00,29.69 L345.42,29.75 L345.83,29.82 L346.25,29.88 L346.67,29.95 L347.08,30.03 L347.50,30.10 L347.92,30.17 L348.33,30.25 L348.75,30.32 L349.17,30.40 L349.58,30.48 L350.00,30.57 L350.42,30.65 L350.83,30.73 L351.25,30.82 L351.67,30.91 L352.08,31.00 L352.50,31.09 L352.92,31.18 L353.33,31.27 L353.75,31.37 L354.17,31.46 L354.58,31.56 L355.00,31.66 L355.42,31.76 L355.83,31.86 L356.25,31.97 L356.67,32.07 L357.08,32.18 L357.50,32.29 L357.92,32.40 L358.33,32.51 L358.75,32.62 L359.17,32.74 L359.58,32.86 L360.00,32.97 L360.42,33.09 L360.83,33.21 L361.25,33.33 L361.67,33.46 L362.08,33.58 L362.50,33.71 L362.92,33.84 L363.33,33.97 L363.75,34.10 L364.17,34.23 L364.58,34.36 L365.00,34.50 L365.42,34.64 L365.83,34.78 L366.25,34.92 L366.67,35.06 L367.08,35.20 L367.50,35.34 L367.92,35.49 L368.33,35.64 L368.75,35.79 L369.17,35.94 L369.58,36.09 L370.00,36.24 L370.42,36.40 L370.83,36.55 L371.25,36.71 L371.67,36.87 L372.08,37.03 L372.50,37.20 L372.92,37.36 L373.33,37.52 L373.75,37.69 L374.17,37.86 L374.58,38.03 L375.00,38.20 L375.42,38.37 L375.83,38.55 L376.25,38.72 L376.67,38.90 L377.08,39.08 L377.50,39.26 L377.92,39.44 L378.33,39.63 L378.75,39.81 L379.17,40.00 L379.58,40.19 L380.00,40.37 L380.42,40.57 L380.83,40.76 L381.25,40.95 L381.67,41.15 L382.08,41.34 L382.50,41.54 L382.92,41.74 L383.33,41.94 L383.75,42.15 L384.17,42.35 L384.58,42.56 L385.00,42.76 L385.42,42.97 L385.83,43.18 L386.25,43.39 L386.67,43.61 L387.08,43.82 L387.50,44.04 L387.92,44.26 L388.33,44.48 L388.75,44.70 L389.17,44.92 L389.58,45.14 L390.00,45.37 L390.42,45.60 L390.83,45.82 L391.25,46.05 L391.67,46.28 L392.08,46.52 L392.50,46.75 L392.92,46.99 L393.33,47.22 L393.75,47.46 L394.17,47.70 L394.58,47.94 L395.00,48.19 L395.42,48.43 L395.83,48.68 L396.25,48.93 L396.67,49.18 L397.08,49.43 L397.50,49.68 L397.92,49.93 L398.33,50.19 L398.75,50.44 L399.17,50.70 L399.58,50.96 L400.00,51.22 L400.42,51.49 L400.83,51.75 L401.25,52.01 L401.67,52.28 L402.08,52.55 L402.50,52.82 L402.92,53.09 L403.33,53.37 L403.75,53.64 L404.17,53.92 L404.58,54.19 L405.00,54.47 L405.42,54.75 L405.83,55.03 L406.25,55.32 L406.67,55.60 L407.08,55.89 L407.50,56.18 L407.92,56.47 L408.33,56.76 L408.75,57.05 L409.17,57.34 L409.58,57.64 L410.00,57.94 L410.42,58.24 L410.83,58.54 L411.25,58.84 L411.67,59.14 L412.08,59.44 L412.50,59.75 L412.92,60.06 L413.33,60.37 L413.75,60.68 L414.17,60.99 L414.58,61.30 L415.00,61.62 L415.42,61.93 L415.83,62.25 L416.25,62.57 L416.67,62.89 L417.08,63.21 L417.50,63.54 L417.92,63.86 L418.33,64.19 L418.75,64.52 L419.17,64.85 L419.58,65.18 L420.00,65.51 L420.42,65.85 L420.83,66.18 L421.25,66.52 L421.67,66.86 L422.08,67.20 L422.50,67.54 L422.92,67.88 L423.33,68.23 L423.75,68.57 L424.17,68.92 L424.58,69.27 L425.00,69.62 L425.42,69.97 L425.83,70.33 L426.25,70.68 L426.67,71.04 L427.08,71.40 L427.50,71.76 L427.92,72.12 L428.33,72.48 L428.75,72.84 L429.17,73.21 L429.58,73.58 L430.00,73.94 L430.42,74.31 L430.83,74.69 L431.25,75.06 L431.67,75.43 L432.08,75.81 L432.50,76.19 L432.92,76.57 L433.33,76.95 L433.75,77.33 L434.17,77.71 L434.58,78.10 L435.00,78.48 L435.42,78.87 L435.83,79.26 L436.25,79.65 L436.67,80.04 L437.08,80.44 L437.50,80.83 L437.92,81.23 L438.33,81.63 L438.75,82.03 L439.17,82.43 L439.58,82.83 L440.00,83.24 L440.42,83.64 L440.83,84.05 L441.25,84.46 L441.67,84.87 L442.08,85.28 L442.50,85.69 L442.92,86.11 L443.33,86.52 L443.75,86.94 L444.17,87.36 L444.58,87.78 L445.00,88.20 L445.42,88.63 L445.83,89.05 L446.25,89.48 L446.67,89.91 L447.08,90.34 L447.50,90.77 L447.92,91.20 L448.33,91.63 L448.75,92.07 L449.17,92.51 L449.58,92.94 L450.00,93.38 L450.42,93.83 L450.86,94.30 L451.30,94.77 L451.74,95.24 L452.18,95.72 L452.62,96.20 L453.06,96.67 L453.48,97.13 L453.89,97.57 L454.28,98.00 L454.65,98.40 L455.00,98.78 L455.32,99.13 L455.62,99.46 L455.89,99.76 L456.15,100.05 L456.39,100.32 L456.62,100.58 L456.85,100.83 L457.07,101.08 L457.30,101.33 L457.52,101.59 L457.76,101.85 L458.00,102.12"/></g>
<text class="tk" text-anchor="middle" x="46.30" y="392.90">0</text><text class="tk" text-anchor="middle" x="38.30 46.30" y="330.30">20</text><text class="tk" text-anchor="middle" x="38.30 46.30" y="267.70">40</text><text class="tk" text-anchor="middle" x="38.30 46.30" y="205.10">60</text><text class="tk" text-anchor="middle" x="38.30 46.30" y="142.50">80</text><text class="tk" text-anchor="middle" x="30.30 38.30 46.30" y="79.90">100</text><text class="tk" text-anchor="middle" x="30.30 38.30 46.30" y="17.30">120</text><text class="tk" text-anchor="middle" x="42.50 49.00 58.50 66.50 74.50" y="407.90">0.000</text><text class="tk" text-anchor="middle" x="135.90 142.40 151.90 159.90 167.90" y="407.90">0.001</text><text class="tk" text-anchor="middle" x="229.30 235.80 245.30 253.30 261.30" y="407.90">0.002</text><text class="tk" text-anchor="middle" x="322.70 329.20 338.70 346.70 354.70" y="407.90">0.003</text><text class="tk" text-anchor="middle" x="416.10 422.60 432.10 440.10 448.10" y="407.90">0.004</text><text class="tk" text-anchor="middle" x="509.50 516.00 525.50 533.50 541.50" y="407.90">0.005</text><text class="ti" text-anchor="middle" x="257.10 266.70 276.30 285.90 295.50 305.10 314.70" y="442.20">Strain/</text><text class="ti eps" text-anchor="middle" x="326.2" y="442.2">ε</text><g transform="rotate(-90)"><text class="yt" text-anchor="middle" transform="translate(-242.68,19.8) scale(0.9,1)" x="0" y="0">S</text><text class="yt" text-anchor="middle" transform="translate(-232.84,19.8) scale(1.0,1)" x="0" y="0">t</text><text class="yt" text-anchor="middle" transform="translate(-223.00,19.8) scale(1.0,1)" x="0" y="0">r</text><text class="yt" text-anchor="middle" transform="translate(-213.16,19.8) scale(1.0,1)" x="0" y="0">e</text><text class="yt" text-anchor="middle" transform="translate(-203.32,19.8) scale(1.0,1)" x="0" y="0">s</text><text class="yt" text-anchor="middle" transform="translate(-193.48,19.8) scale(1.0,1)" x="0" y="0">s</text><text class="yt" text-anchor="middle" transform="translate(-183.64,19.8) scale(1.0,1)" x="0" y="0">/</text><text class="yt" text-anchor="middle" transform="translate(-173.80,19.8) scale(0.58,1)" x="0" y="0">M</text><text class="yt" text-anchor="middle" transform="translate(-163.96,19.8) scale(0.8,1)" x="0" y="0">P</text><text class="yt" text-anchor="middle" transform="translate(-154.12,19.8) scale(1.0,1)" x="0" y="0">a</text></g>
<rect x="362.6" y="166.4" width="148.2" height="117.6" fill="#fff" stroke="#5a5a5a" stroke-width="1.1"/><text class="lg" text-anchor="middle" x="369.00 377.00 385.00 393.00 401.00 409.00 417.00 425.00 433.00" y="182.10">Coal rock</text><text class="lg" text-anchor="middle" x="408.00 416.00 424.00 432.00" y="201.80">120s</text><text class="sup" x="436.3" y="196.3">-</text><text class="sup" x="441.0" y="196.3">1</text><text class="lg" text-anchor="middle" x="408.00 416.00 424.00 432.00" y="221.70">145s</text><text class="sup" x="436.3" y="216.2">-</text><text class="sup" x="441.0" y="216.2">1</text><text class="lg" text-anchor="middle" x="408.00 416.00 424.00 432.00" y="241.80">186s</text><text class="sup" x="436.3" y="236.3">-</text><text class="sup" x="441.0" y="236.3">1</text><text class="lg" text-anchor="middle" x="408.00 416.00 424.00 432.00" y="261.70">212s</text><text class="sup" x="436.3" y="256.2">-</text><text class="sup" x="441.0" y="256.2">1</text><circle cx="380.1" cy="197" r="3.75" fill="none" stroke="#dfbb78" stroke-width="1.3"/><path fill="#1e5fd4" d="M380.5,210.7L386.0,220.5L375.0,220.5Z"/><path fill="#2ba166" d="M374.9,232.6L386.1,232.6L380.5,242.6Z"/><path fill="#a570e0" d="M380.5,251.2L385.9,256.6L380.5,262.0L375.1,256.6Z"/><path d="M364.4,273.6H397.1" stroke="#e3131b" stroke-width="2.4"/><text class="lg" text-anchor="middle" x="408.20 416.20 424.20 432.20 440.20 448.20 456.20 464.20 472.20 480.20 488.20 496.20 504.20" y="278.40">Curve fitting</text>
</svg>
</body></html>
